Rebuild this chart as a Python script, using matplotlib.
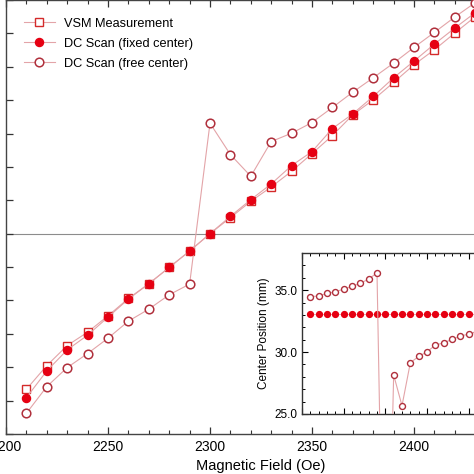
import matplotlib.pyplot as plt
from matplotlib.ticker import MultipleLocator

plt.rcParams['font.family'] = ['Liberation Sans', 'DejaVu Sans']

# Magnetic field values (Oe)
field = [2210, 2220, 2230, 2240, 2250, 2260, 2270, 2280, 2290, 2300, 2310, 2320,
         2330, 2340, 2350, 2360, 2370, 2380, 2390, 2400, 2410, 2420, 2430]

vsm = [-4.66, -3.95, -3.35, -2.95, -2.46, -1.94, -1.50, -1.01, -0.52, 0.00, 0.48, 0.97,
       1.40, 1.87, 2.40, 2.94, 3.56, 4.01, 4.53, 5.06, 5.51, 6.01, 6.50]
dc_fixed = [-4.91, -4.11, -3.48, -3.04, -2.50, -1.96, -1.50, -1.01, -0.52, 0.00, 0.52, 1.02,
            1.49, 2.04, 2.46, 3.15, 3.59, 4.11, 4.67, 5.17, 5.68, 6.16, 6.62]
dc_free = [-5.38, -4.58, -4.01, -3.59, -3.13, -2.62, -2.26, -1.83, -1.51, 3.31, 2.37, 1.72,
           2.76, 3.01, 3.33, 3.78, 4.24, 4.67, 5.11, 5.58, 6.03, 6.49, 6.92]

# inset: fitted centre position (mm)
center_fixed = [33.05] * len(field)
center_free = [34.46, 34.54, 34.73, 34.87, 35.08, 35.30, 35.56, 35.89, 36.40, 0.0, 28.15,
               25.67, 29.14, 29.65, 30.02, 30.56, 30.75, 31.02, 31.29, 31.45, 31.65, 31.80, 31.95]

line_col = '#e3a4a8'
red = '#e60012'
dark_red = '#b0303c'
sq_red = '#d42a2a'

fig = plt.figure(figsize=(4.74, 4.74), dpi=100)
ax = fig.add_axes([6 / 474, 40 / 474, 510 / 474, 434 / 474])

ax.axhline(0, color='#8c8c8c', lw=0.8, zorder=1)
ax.plot(field, vsm, '-s', color=line_col, lw=0.8, ms=5.5, mfc='white', mec=sq_red,
        mew=1.0, label='VSM Measurement', zorder=3)
ax.plot(field, dc_fixed, '-o', color=line_col, lw=0.8, ms=5.8, mfc=red, mec=red,
        label='DC Scan (fixed center)', zorder=4)
ax.plot(field, dc_free, '-o', color=line_col, lw=0.8, ms=6.2, mfc='white', mec=dark_red,
        mew=1.1, label='DC Scan (free center)', zorder=3)

ax.set_xlim(2200, 2450)
ax.set_ylim(-6, 7)
ax.xaxis.set_major_locator(MultipleLocator(50))
ax.xaxis.set_minor_locator(MultipleLocator(10))
ax.yaxis.set_major_locator(MultipleLocator(1))
ax.tick_params(which='both', direction='in', top=True, right=True, labelsize=10,
               colors='#333333', labelleft=False)
ax.tick_params(which='major', length=5, width=0.9)
ax.tick_params(which='minor', length=3, width=0.8)
ax.tick_params(axis='x', labelcolor='black', pad=4)
for s in ax.spines.values():
    s.set_color('#444444')
    s.set_linewidth(1.0)
ax.set_xlabel('Magnetic Field (Oe)', fontsize=10.5, labelpad=4)

leg = ax.legend(loc='upper left', bbox_to_anchor=(0.0, 1.0), frameon=False, fontsize=9.2,
                handlelength=2.4, handletextpad=0.7, labelspacing=0.62, borderaxespad=0.9,
                borderpad=0.5)

# inset
ins = fig.add_axes([302 / 474, 60 / 474, 200 / 474, 161 / 474])
ins.plot(field, center_fixed, '-o', color=line_col, lw=0.6, ms=4.2, mfc=red, mec=red, zorder=3)
ins.plot(field, center_free, '-o', color=line_col, lw=0.8, ms=4.3, mfc='white', mec=dark_red,
         mew=1.0, zorder=3)
ins.set_xlim(2200, 2440)
ins.set_ylim(25, 38)
ins.xaxis.set_major_locator(MultipleLocator(50))
ins.xaxis.set_minor_locator(MultipleLocator(10))
ins.yaxis.set_major_locator(MultipleLocator(5))
ins.yaxis.set_minor_locator(MultipleLocator(1))
ins.yaxis.set_major_formatter(plt.FormatStrFormatter('%.1f'))
ins.tick_params(which='both', direction='in', top=True, right=True, labelsize=8.5,
                labelbottom=False)
ins.tick_params(which='major', length=4, width=0.8)
ins.tick_params(which='minor', length=2.5, width=0.7)
for s in ins.spines.values():
    s.set_color('#333333')
    s.set_linewidth(1.0)
ins.set_ylabel('Center Position (mm)', fontsize=8.5, labelpad=3)

fig.savefig('out.png', dpi=100)
